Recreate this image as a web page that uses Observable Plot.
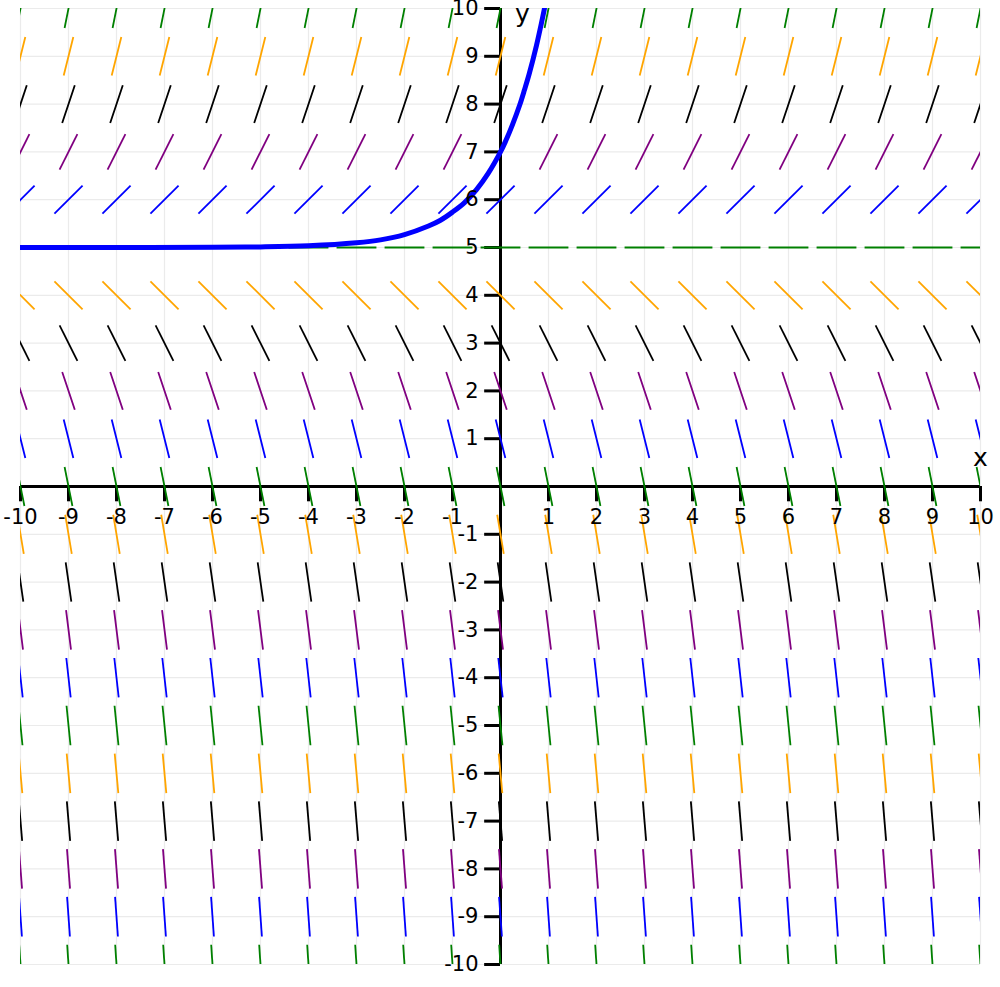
<!DOCTYPE html>
<html>
<head>
<meta charset="utf-8">
<script src="https://cdn.jsdelivr.net/npm/d3@7"></script>
<script src="https://cdn.jsdelivr.net/npm/@observablehq/plot@0.6"></script>
<style>
  html, body { margin: 0; padding: 0; background: #fff; }
  svg { display: block; }
</style>
</head>
<body>
<div id="chart"></div>
<script>
// Grid columns (x) and rows (y) of the slope field
const colXs = [-10,-9,-8,-7,-6,-5,-4,-3,-2,-1,0,1,2,3,4,5,6,7,8,9,10];
const rowYs = [10,9,8,7,6,5,4,3,2,1,0,-1,-2,-3,-4,-5,-6,-7,-8,-9,-10];
// slope read for each row (dy/dx)
const rowSlopes = [5,4,3,2,1,0,-1,-2,-3,-4,-5,-6,-7,-8,-9,-10,-11,-12,-13,-14,-15];
// colour cycle per row
const rowColors = ["green","orange","black","purple","blue"];

// solution curve points
const curveX = [-10,-8,-6,-5,-4,-3,-2.5,-2,-1.5,-1.25,-1,-0.75,-0.5,-0.25,0,0.1,0.25,0.4,0.5,0.6,0.75,0.85,0.916];
const curveY = [5.0001,5.0007,5.005,5.013,5.037,5.10,5.16,5.27,5.45,5.57,5.74,5.94,6.21,6.56,7.0,7.21,7.57,7.98,8.30,8.64,9.23,9.68,10.0];

const tickVals = [-10,-9,-8,-7,-6,-5,-4,-3,-2,-1,1,2,3,4,5,6,7,8,9,10];
const gridVals = [-10,-9,-8,-7,-6,-5,-4,-3,-2,-1,0,1,2,3,4,5,6,7,8,9,10];

const half = 0.415;
const segments = [];
rowYs.forEach((y, i) => {
  const m = rowSlopes[i];
  const dx = half / Math.sqrt(1 + m * m);
  colXs.forEach(x => {
    segments.push({x1: x - dx, y1: y - m * dx, x2: x + dx, y2: y + m * dx, c: rowColors[i % 5]});
  });
});
const curve = curveX.map((x, i) => ({x, y: curveY[i]}));
const fmt = d => (d < 0 ? "-" + Math.abs(d) : String(d));

const chart = Plot.plot({
  width: 1000,
  height: 987,
  marginLeft: 20,
  marginRight: 20,
  marginTop: 8,
  marginBottom: 23,
  style: {fontFamily: "DejaVu Sans", background: "#fff"},
  x: {domain: [-10, 10], axis: null},
  y: {domain: [-10, 10], axis: null},
  marks: [
    Plot.ruleX(gridVals, {x: d => d, y1: -10, y2: 10, stroke: "#ebebeb", strokeWidth: 1.2}),
    Plot.ruleY(gridVals, {y: d => d, x1: -10, x2: 10, stroke: "#ebebeb", strokeWidth: 1.2}),
    Plot.ruleY([0], {x1: -10, x2: 10, stroke: "black", strokeWidth: 3}),
    Plot.ruleX([0], {y1: -10, y2: 10, stroke: "black", strokeWidth: 3}),
    Plot.ruleX(tickVals, {x: d => d, y1: 0, y2: -0.32, stroke: "black", strokeWidth: 3}),
    Plot.ruleY(tickVals, {y: d => d, x1: -0.33, x2: 0, stroke: "black", strokeWidth: 3}),
    Plot.link(segments, {x1: "x1", y1: "y1", x2: "x2", y2: "y2", stroke: "c", strokeWidth: 1.8, clip: true}),
    Plot.line(curve, {x: "x", y: "y", curve: "catmull-rom", stroke: "#0000ff", strokeWidth: 5, clip: true}),
    Plot.text(tickVals, {x: d => d, y: 0, dy: 31, text: fmt, fontSize: 21, fill: "black"}),
    Plot.text(tickVals, {x: 0, y: d => d, dx: -22, textAnchor: "end", text: fmt, fontSize: 21, fill: "black"}),
    Plot.text(["x"], {x: 10, y: 0, dy: -29, text: d => d, fontSize: 25, fill: "black"}),
    Plot.text(["y"], {x: 0, y: 10, dx: 22, dy: 5, text: d => d, fontSize: 25, fill: "black"})
  ]
});
document.getElementById("chart").appendChild(chart);
</script>
</body>
</html>
